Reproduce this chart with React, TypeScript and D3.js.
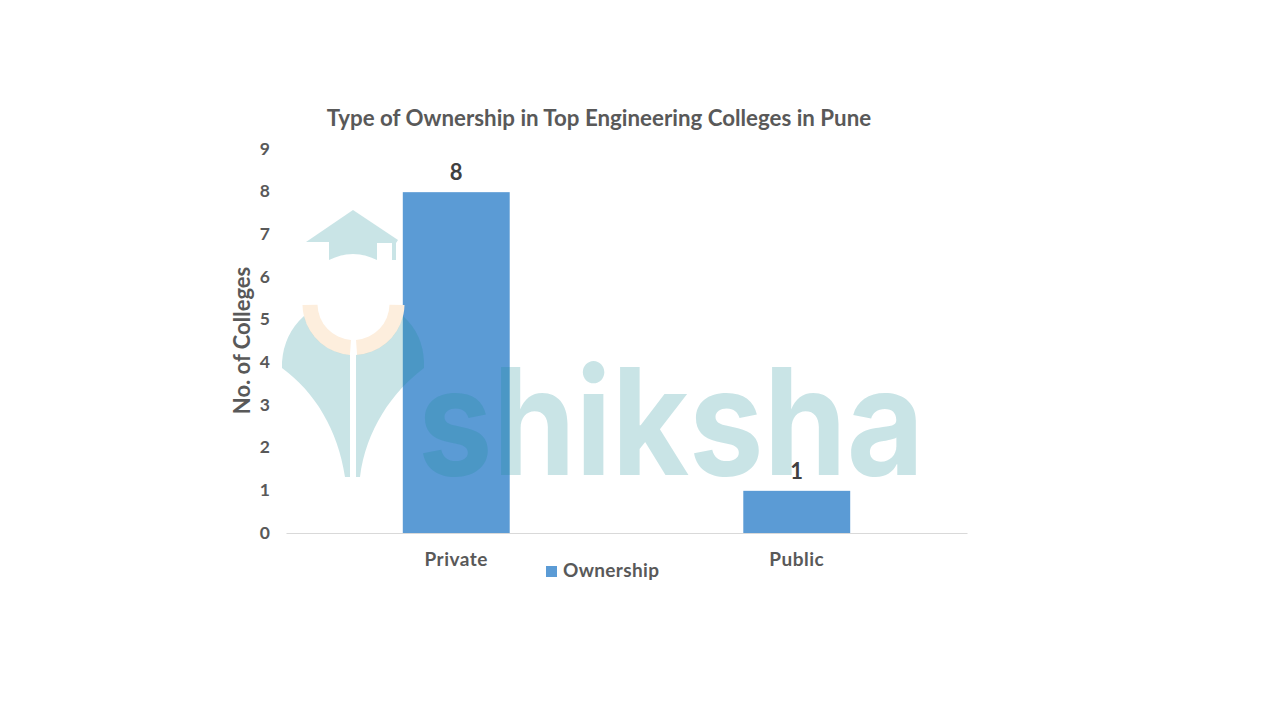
import { useEffect, useRef } from 'react';
import * as d3 from 'd3';

const categories = ['Private', 'Public'];
const seriesName = 'Ownership';
const values = [8, 1];
const yTicks = [0, 1, 2, 3, 4, 5, 6, 7, 8, 9];

const FONT = 'Lato, "Open Sans", sans-serif';
const BAR = '#5b9bd5';
const TEXT = '#595959';

// logo watermark, sits on top of the bars with low opacity
function drawWatermark(svg: d3.Selection<SVGSVGElement, unknown, null, undefined>) {
  const g = svg.append('g').attr('class', 'watermark');
  const teal = 'rgb(20,139,148)';
  const tealOpacity = 0.23;

  g.append('path')
    .attr('d', 'M306,242 L353,210 L398,240 L396,243 L396,260 L392,260 L392,243 L377,243 L377,260 Q353,248 329,260 L329,242 Z')
    .attr('fill', teal)
    .attr('fill-opacity', tealOpacity);

  const ring = d3.arc();
  [[-Math.PI / 2 - 0.02, -Math.PI + 0.07], [Math.PI / 2 + 0.02, Math.PI - 0.07]].forEach(([a, b]) => {
    g.append('path')
      .attr('transform', 'translate(353.5,304)')
      .attr('d', ring({ innerRadius: 36, outerRadius: 51, startAngle: a, endAngle: b } as any) as string)
      .attr('fill', '#fdeedd');
  });

  g.append('path')
    .attr('d', 'M304,316 Q284,334 282,362 L282,368 C315,392 338,430 345,477 L350,477 L350,355 A51,51 0 0 1 304,316 Z')
    .attr('fill', teal)
    .attr('fill-opacity', tealOpacity);
  g.append('path')
    .attr('d', 'M403,316 Q423,334 424,362 L424,368 C392,392 366,430 360,477 L356,477 L356,355 A51,51 0 0 0 403,316 Z')
    .attr('fill', teal)
    .attr('fill-opacity', tealOpacity);

  g.append('text')
    .attr('x', 418)
    .attr('y', 475)
    .attr('textLength', 506)
    .attr('lengthAdjust', 'spacingAndGlyphs')
    .attr('font-family', 'Inter, sans-serif')
    .attr('font-weight', 700)
    .attr('font-size', 148)
    .attr('fill', teal)
    .attr('fill-opacity', tealOpacity)
    .text('shiksha');
}

export default function App() {
  const svgRef = useRef<SVGSVGElement>(null);

  useEffect(() => {
    if (!svgRef.current) return;
    const svg = d3.select(svgRef.current);
    svg.selectAll('*').remove();
    svg.style('font-family', FONT);

    const x = d3.scaleBand<string>()
      .domain(categories)
      .range([286, 967])
      .paddingInner(0.686)
      .paddingOuter(0.343);
    const y = d3.scaleLinear().domain([0, 9]).range([533.5, 149.5]);

    // Title
    svg.append('text')
      .attr('x', 599)
      .attr('y', 126)
      .attr('text-anchor', 'middle')
      .attr('font-size', 22.3)
      .attr('font-weight', 700)
      .attr('fill', TEXT)
      .text('Type of Ownership in Top Engineering Colleges in Pune');

    // Bars
    svg.append('g')
      .selectAll('rect')
      .data(values)
      .join('rect')
      .attr('x', (_, i) => x(categories[i]) || 0)
      .attr('y', d => y(d))
      .attr('width', x.bandwidth())
      .attr('height', d => y(0) - y(d))
      .attr('fill', BAR);

    drawWatermark(svg);

    // Y axis, labels only
    const yAxis = svg.append('g')
      .attr('transform', 'translate(270,-1)')
      .call(d3.axisLeft(y).tickValues(yTicks).tickFormat(d3.format('d')).tickSize(0).tickPadding(0));
    yAxis.select('.domain').remove();
    yAxis.selectAll('text')
      .attr('font-family', FONT)
      .attr('font-size', 17.5)
      .attr('font-weight', 700)
      .attr('fill', TEXT);

    // X axis
    const xAxis = svg.append('g')
      .attr('transform', `translate(0,${y(0) - 0.5})`)
      .call(d3.axisBottom(x).tickSize(0).tickPadding(20));
    xAxis.select('.domain').attr('stroke', '#d9d9d9').attr('stroke-width', 1);
    xAxis.selectAll('text')
      .attr('font-family', FONT)
      .attr('font-size', 19)
      .attr('letter-spacing', 0.5)
      .attr('font-weight', 700)
      .attr('fill', TEXT);

    // Y axis title
    svg.append('text')
      .attr('transform', 'translate(250,340.5) rotate(-90)')
      .attr('text-anchor', 'middle')
      .attr('font-size', 22)
      .attr('font-weight', 700)
      .attr('fill', TEXT)
      .text('No. of Colleges');

    // Data labels
    svg.append('g')
      .selectAll('text')
      .data(values)
      .join('text')
      .attr('x', (_, i) => (x(categories[i]) || 0) + x.bandwidth() / 2)
      .attr('y', d => y(d) - 12)
      .attr('text-anchor', 'middle')
      .attr('font-size', 22)
      .attr('font-weight', 700)
      .attr('fill', '#404040')
      .text(d => d);

    // Legend
    svg.append('rect')
      .attr('x', 546)
      .attr('y', 566)
      .attr('width', 11)
      .attr('height', 11)
      .attr('fill', BAR);
    svg.append('text')
      .attr('x', 563)
      .attr('y', 577)
      .attr('font-size', 19)
      .attr('letter-spacing', 0.35)
      .attr('font-weight', 700)
      .attr('fill', TEXT)
      .text(seriesName);
  }, []);

  return (
    <svg
      ref={svgRef}
      width={1280}
      height={720}
      viewBox="0 0 1280 720"
      style={{ position: 'fixed', left: 0, top: 0, background: '#fff' }}
    />
  );
}
